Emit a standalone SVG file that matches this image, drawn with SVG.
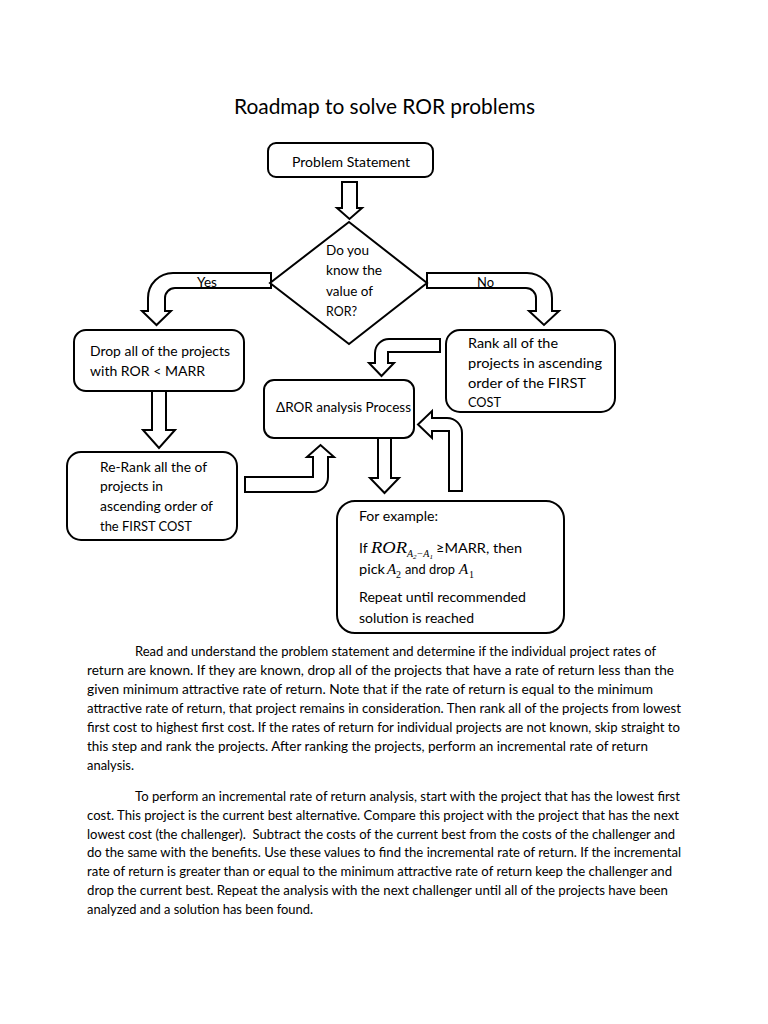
<svg xmlns="http://www.w3.org/2000/svg" width="768" height="1024" viewBox="0 0 768 1024">
<style>
.box{fill:#fff;stroke:#000;stroke-width:2}
.arr{fill:#fff;stroke:#000;stroke-width:2;stroke-linejoin:miter}
.t{font-family:Lato,"Liberation Sans",sans-serif;font-size:14px;fill:#000}
.p{font-family:Lato,"Liberation Sans",sans-serif;font-size:13px;fill:#000}
.m{font-family:"Liberation Serif",serif;font-style:italic;fill:#000}
.n{font-family:"Liberation Serif",serif;fill:#000}
</style>
<rect width="768" height="1024" fill="#fff"/>
<text x="234" y="114" font-family="Lato,'Liberation Sans',sans-serif" font-size="21" textLength="301" lengthAdjust="spacingAndGlyphs">Roadmap to solve ROR problems</text>

<g id="connectors">
  <path class="arr" d="M342,182 H357 V208 H362 L349.5,219 L337,208 H342 Z"/>
  <path class="arr" d="M271,273 H173 A25,25 0 0 0 148,298 V311 H142 L156.5,325 L171,311 H165 V298 A10,10 0 0 1 175,288 H271 Z"/>
  <path class="arr" d="M427,273 H527 A25,25 0 0 1 552,298 V311 H559 L544,325 L529,311 H536 V298 A10,10 0 0 0 526,288 H427 Z"/>
  <path class="arr" d="M152,391 V430 H143 L159,448 L175,430 H166 V391 Z"/>
  <path class="arr" d="M245,477 H313 V457 H307 L320.5,445 L334,457 H328 V477 A15,15 0 0 1 313,492 H245 Z"/>
  <path class="arr" d="M440,339 H389 A14,14 0 0 0 375,353 V363 H369 L381.5,376 L394,363 H388 V352 H440 Z"/>
  <path class="arr" d="M378,438 V478 H370 L384.5,493 L399,478 H391 V438 Z"/>
  <path class="arr" d="M449,491 V431 H432 V438 L418,424.5 L432,411 V418 H447 A15,15 0 0 1 462,433 V491 Z"/>
  <text class="t" x="197" y="286.5" textLength="20" lengthAdjust="spacingAndGlyphs">Yes</text>
  <text class="t" x="477" y="286.5" textLength="17" lengthAdjust="spacingAndGlyphs">No</text>
</g>

<g id="problem">
  <rect class="box" x="268" y="143" width="165" height="34" rx="8"/>
  <text class="t" x="292" y="167" textLength="118" lengthAdjust="spacingAndGlyphs">Problem Statement</text>
</g>

<g id="decision">
  <polygon class="box" points="349,222 427,283 349,344 270,283"/>
  <text class="t" x="326" y="255" textLength="43" lengthAdjust="spacingAndGlyphs">Do you</text>
  <text class="t" x="326" y="275" textLength="56" lengthAdjust="spacingAndGlyphs">know the</text>
  <text class="t" x="326" y="296" textLength="47" lengthAdjust="spacingAndGlyphs">value of</text>
  <text class="t" x="326" y="316" textLength="31" lengthAdjust="spacingAndGlyphs">ROR?</text>
</g>

<g id="drop">
  <rect class="box" x="74" y="330" width="170" height="61" rx="12"/>
  <text class="t" x="90" y="356" textLength="140" lengthAdjust="spacingAndGlyphs">Drop all of the projects</text>
  <text class="t" x="90" y="376" textLength="115" lengthAdjust="spacingAndGlyphs">with ROR &lt; MARR</text>
</g>

<g id="rank">
  <rect class="box" x="446" y="330" width="169" height="82" rx="14"/>
  <text class="t" x="468" y="348" textLength="90" lengthAdjust="spacingAndGlyphs">Rank all of the</text>
  <text class="t" x="468" y="368" textLength="134" lengthAdjust="spacingAndGlyphs">projects in ascending</text>
  <text class="t" x="468" y="388" textLength="118" lengthAdjust="spacingAndGlyphs">order of the FIRST</text>
  <text class="t" x="468" y="407" textLength="33" lengthAdjust="spacingAndGlyphs">COST</text>
</g>

<g id="analysis">
  <rect class="box" x="264" y="380" width="150" height="58" rx="10"/>
  <text class="t" x="276" y="412" textLength="135" lengthAdjust="spacingAndGlyphs">ΔROR analysis Process</text>
</g>

<g id="rerank">
  <rect class="box" x="67" y="452" width="170" height="88" rx="14"/>
  <text class="t" x="100" y="472" textLength="107" lengthAdjust="spacingAndGlyphs">Re-Rank all the of</text>
  <text class="t" x="100" y="491" textLength="63" lengthAdjust="spacingAndGlyphs">projects in</text>
  <text class="t" x="100" y="511" textLength="113" lengthAdjust="spacingAndGlyphs">ascending order of</text>
  <text class="t" x="100" y="531" textLength="92" lengthAdjust="spacingAndGlyphs">the FIRST COST</text>
</g>

<g id="example">
  <rect class="box" x="337" y="501" width="227" height="132" rx="18"/>
  <text class="t" x="359" y="521" textLength="79" lengthAdjust="spacingAndGlyphs">For example:</text>
  <text class="t" x="359" y="553">If</text>
  <text class="m" x="371" y="553" font-size="16" textLength="36" lengthAdjust="spacingAndGlyphs">ROR</text>
  <text class="m" x="407" y="557" font-size="10">A<tspan font-size="7" dy="2">2</tspan><tspan dy="-2">−A</tspan><tspan font-size="7" dy="2">1</tspan></text>
  <text class="t" x="436" y="553" textLength="86" lengthAdjust="spacingAndGlyphs">≥MARR, then</text>
  <text class="t" x="359" y="574" textLength="26" lengthAdjust="spacingAndGlyphs">pick</text>
  <text class="m" x="387" y="574" font-size="15">A</text>
  <text class="n" x="396" y="578" font-size="10">2</text>
  <text class="t" x="405" y="574" textLength="50" lengthAdjust="spacingAndGlyphs">and drop</text>
  <text class="m" x="459" y="574" font-size="15">A</text>
  <text class="n" x="469" y="578" font-size="10">1</text>
  <text class="t" x="359" y="602" textLength="167" lengthAdjust="spacingAndGlyphs">Repeat until recommended</text>
  <text class="t" x="359" y="623" textLength="115" lengthAdjust="spacingAndGlyphs">solution is reached</text>
</g>

<g id="paragraphs">
  <text class="p" x="135" y="656" textLength="521" lengthAdjust="spacingAndGlyphs">Read and understand the problem statement and determine if the individual project rates of</text>
  <text class="p" x="87" y="675" textLength="587" lengthAdjust="spacingAndGlyphs">return are known. If they are known, drop all of the projects that have a rate of return less than the</text>
  <text class="p" x="87" y="694" textLength="566" lengthAdjust="spacingAndGlyphs">given minimum attractive rate of return. Note that if the rate of return is equal to the minimum</text>
  <text class="p" x="87" y="713" textLength="594" lengthAdjust="spacingAndGlyphs">attractive rate of return, that project remains in consideration. Then rank all of the projects from lowest</text>
  <text class="p" x="87" y="732" textLength="593" lengthAdjust="spacingAndGlyphs">first cost to highest first cost. If the rates of return for individual projects are not known, skip straight to</text>
  <text class="p" x="87" y="751" textLength="561" lengthAdjust="spacingAndGlyphs">this step and rank the projects. After ranking the projects, perform an incremental rate of return</text>
  <text class="p" x="87" y="770" textLength="47" lengthAdjust="spacingAndGlyphs">analysis.</text>
  <text class="p" x="135" y="801" textLength="545" lengthAdjust="spacingAndGlyphs">To perform an incremental rate of return analysis, start with the project that has the lowest first</text>
  <text class="p" x="87" y="820" textLength="592" lengthAdjust="spacingAndGlyphs">cost. This project is the current best alternative. Compare this project with the project that has the next</text>
  <text class="p" x="87" y="839" textLength="588" lengthAdjust="spacingAndGlyphs" xml:space="preserve">lowest cost (the challenger).  Subtract the costs of the current best from the costs of the challenger and</text>
  <text class="p" x="87" y="857" textLength="594" lengthAdjust="spacingAndGlyphs">do the same with the benefits. Use these values to find the incremental rate of return. If the incremental</text>
  <text class="p" x="87" y="876" textLength="585" lengthAdjust="spacingAndGlyphs">rate of return is greater than or equal to the minimum attractive rate of return keep the challenger and</text>
  <text class="p" x="87" y="895" textLength="581" lengthAdjust="spacingAndGlyphs">drop the current best. Repeat the analysis with the next challenger until all of the projects have been</text>
  <text class="p" x="87" y="914" textLength="226" lengthAdjust="spacingAndGlyphs">analyzed and a solution has been found.</text>
</g>
</svg>
